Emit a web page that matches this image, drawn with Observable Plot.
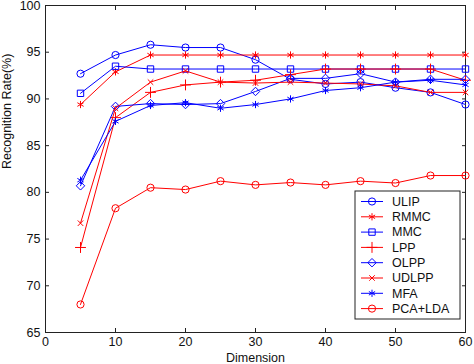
<!DOCTYPE html>
<html>
<head>
<meta charset="utf-8">
<script src="https://cdn.jsdelivr.net/npm/d3@7"></script>
<script src="https://cdn.jsdelivr.net/npm/@observablehq/plot@0.6"></script>
<style>
  html, body { margin: 0; padding: 0; background: #fff; }
  #chart { width: 474px; height: 364px; }
</style>
</head>
<body>
<div id="chart"></div>
<script>
// Data
const dims = [5, 10, 15, 20, 25, 30, 35, 40, 45, 50, 55, 60];
const seriesNames = ["ULIP", "RMMC", "MMC", "LPP", "OLPP", "UDLPP", "MFA", "PCA+LDA"];
const ulip   = [92.7, 94.7, 95.8, 95.5, 95.5, 94.2, 92.1, 91.6, 91.8, 91.2, 90.7, 89.4];
const rmmc   = [89.4, 92.9, 94.7, 94.7, 94.7, 94.7, 94.7, 94.7, 94.7, 94.7, 94.7, 94.7];
const mmc    = [90.6, 93.5, 93.2, 93.2, 93.2, 93.2, 93.2, 93.2, 93.2, 93.2, 93.2, 93.2];
const lpp    = [74.1, 88.0, 90.7, 91.5, 91.8, 92.0, 92.6, 93.2, 93.2, 93.2, 93.2, 92.0];
const olpp   = [80.7, 89.2, 89.5, 89.4, 89.5, 90.8, 92.2, 92.2, 92.7, 91.8, 92.1, 92.1];
const udlpp  = [76.7, 89.0, 91.8, 93.0, 91.8, 91.7, 91.8, 91.7, 91.6, 91.4, 90.7, 90.7];
const mfa    = [81.3, 87.6, 89.3, 89.6, 89.0, 89.4, 90.0, 90.9, 91.2, 91.8, 92.0, 91.5];
const pcalda = [68.0, 78.3, 80.5, 80.3, 81.2, 80.8, 81.05, 80.8, 81.2, 81.0, 81.8, 81.8];
const xTicks = [0, 10, 20, 30, 40, 50, 60];
const yTicks = [65, 70, 75, 80, 85, 90, 95, 100];
const xLabel = "Dimension";
const yLabel = "Recognition Rate(%)";

const seriesValues = [ulip, rmmc, mmc, lpp, olpp, udlpp, mfa, pcalda];
const seriesColors = ["#0000ff", "#ff0000", "#0000ff", "#ff0000", "#0000ff", "#ff0000", "#0000ff", "#ff0000"];
const seriesSymbols = ["circle", "asterisk", "square", "plus", "diamond2", "times", "asterisk", "circle"];
const seriesR = [3.6, 3.4, 3.6, 3.6, 3.8, 2.6, 3.4, 3.6];

const rows = [];
seriesNames.forEach((name, i) => {
  dims.forEach((d, j) => rows.push({series: name, dim: d, value: seriesValues[i][j], idx: i}));
});

const FONT = "'Liberation Sans', Arial, sans-serif";

const marks = [
  Plot.frame({stroke: "#222", strokeWidth: 1}),
  Plot.axisX({ticks: xTicks, tickSize: -4, tickPadding: 9, label: null, stroke: "#222"}),
  Plot.axisX({anchor: "top", ticks: xTicks, tickSize: -4, tickFormat: () => "", label: null, stroke: "#222"}),
  Plot.axisY({ticks: yTicks, tickSize: -4, tickPadding: 9, label: null, stroke: "#222"}),
  Plot.axisY({anchor: "right", ticks: yTicks, tickSize: -4, tickFormat: () => "", label: null, stroke: "#222"}),
  Plot.text([xLabel], {text: d => d, frameAnchor: "bottom", dy: 29, lineAnchor: "bottom", fill: "#111", fontSize: 12.5}),
  Plot.text([yLabel], {text: d => d, frameAnchor: "left", dx: -39, rotate: -90, fill: "#111", fontSize: 12.5})
];
seriesNames.forEach((name, i) => {
  const data = rows.filter(r => r.series === name);
  marks.push(Plot.line(data, {x: "dim", y: "value", stroke: seriesColors[i], strokeWidth: 1}));
  marks.push(Plot.dot(data, {x: "dim", y: "value", stroke: seriesColors[i], fill: "none", symbol: seriesSymbols[i], r: seriesR[i], strokeWidth: 1}));
});

const chart = Plot.plot({
  width: 474,
  height: 364,
  marginLeft: 45,
  marginRight: 9,
  marginTop: 5,
  marginBottom: 32,
  x: {domain: [0, 60]},
  y: {domain: [65, 100]},
  style: {fontFamily: FONT, fontSize: "12.5px", color: "#111", background: "#fff"},
  marks
});

// Legend drawn inside the plot SVG
const svg = d3.select(chart);
const lg = svg.append("g").attr("transform", "translate(355,191)");
lg.append("rect").attr("width", 105).attr("height", 128).attr("fill", "#fff").attr("stroke", "#222");
const symMap = {circle: d3.symbolCircle, asterisk: d3.symbolAsterisk, square: d3.symbolSquare, plus: d3.symbolPlus, diamond2: d3.symbolDiamond2, times: d3.symbolTimes};
seriesNames.forEach((name, i) => {
  const cy = 10.5 + i * 15.3;
  const g = lg.append("g").attr("transform", `translate(0,${cy})`);
  g.append("line").attr("x1", 6).attr("x2", 28).attr("stroke", seriesColors[i]).attr("stroke-width", 1);
  g.append("path").attr("transform", "translate(17,0)")
    .attr("d", d3.symbol(symMap[seriesSymbols[i]], Math.PI * seriesR[i] * seriesR[i])())
    .attr("fill", "none").attr("stroke", seriesColors[i]);
  g.append("text").attr("x", 37).attr("dy", "0.35em").attr("fill", "#111")
    .attr("text-anchor", "start")
    .style("font-family", FONT).style("font-size", "12.5px").text(name);
});

document.getElementById("chart").appendChild(chart);
</script>
</body>
</html>
